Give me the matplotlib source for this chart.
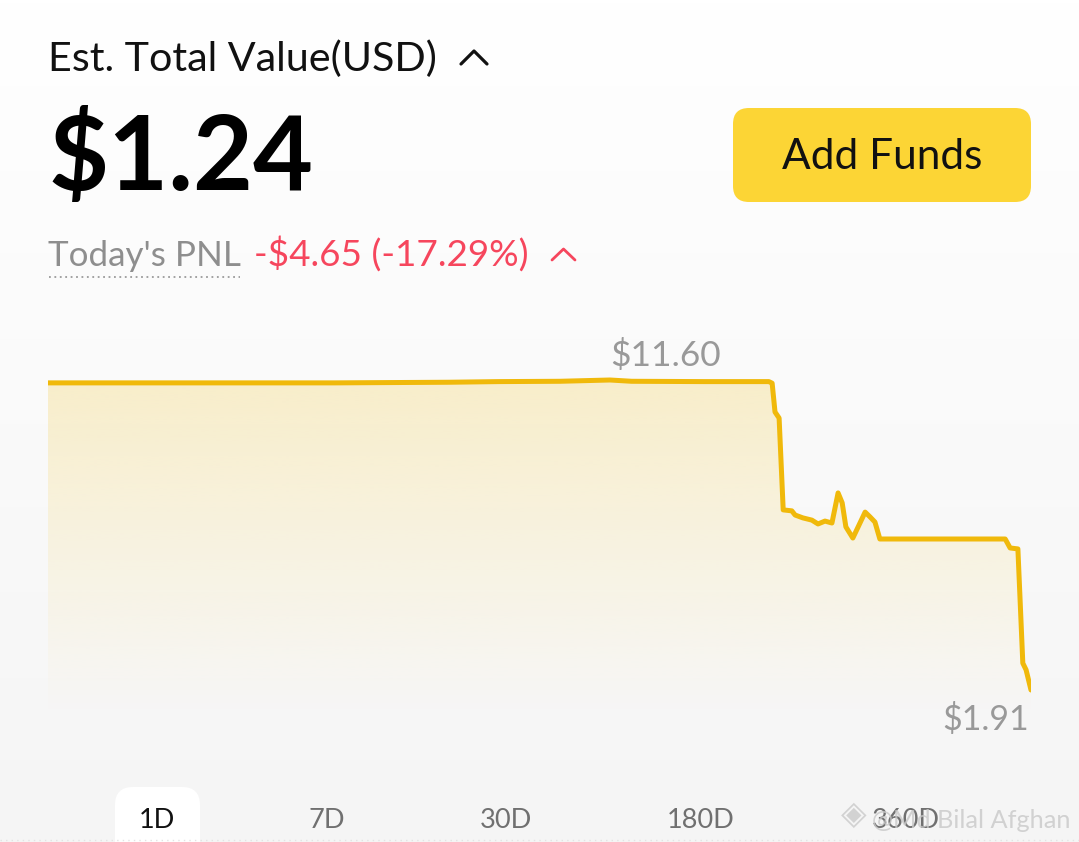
import numpy as np
import matplotlib.pyplot as plt
from matplotlib.patches import FancyBboxPatch

plt.rcParams['font.family'] = ['Lato', 'DejaVu Sans']

# portfolio value over the day (hours, USD)
hours = [0.00, 3.70, 7.00, 9.80, 11.00, 12.50, 13.72, 14.25, 16.00, 17.60,
         17.68, 17.75, 17.85, 17.95, 18.16, 18.24, 18.43, 18.65, 18.80, 18.97,
         19.14, 19.29, 19.39, 19.48, 19.65, 19.78, 19.95, 20.07, 20.19, 20.31,
         21.50, 22.50, 23.37, 23.49, 23.68, 23.80, 23.88, 24.00]
values = [11.51, 11.51, 11.51, 11.53, 11.55, 11.56, 11.60, 11.56, 11.55, 11.55,
          11.50, 10.60, 10.41, 7.54, 7.51, 7.38, 7.29, 7.22, 7.10, 7.19,
          7.13, 8.07, 7.76, 7.01, 6.66, 7.01, 7.47, 7.32, 7.16, 6.63,
          6.63, 6.63, 6.63, 6.35, 6.32, 2.75, 2.54, 1.91]

total_value = "$1.24"
pnl_text = "-$4.65 (-17.29%)"
tabs = ["1D", "7D", "30D", "180D", "360D"]
tab_x = [157, 327, 506, 701, 906]

W, H = 1079, 842
fig = plt.figure(figsize=(W / 100, H / 100), dpi=100)
renderer = fig.canvas.get_renderer()

bg = fig.add_axes([0, 0, 1, 1])
bg.set_xlim(0, W)
bg.set_ylim(H, 0)
bg.axis("off")
grad = np.linspace(1.0, 0.961, 256).reshape(-1, 1)
bg.imshow(np.dstack([grad] * 3), extent=[0, W, H, 0], aspect="auto", zorder=0)


def put(x, y, s, width, ax=bg, **kw):
    # set the font size so the text gets the width it has in the screenshot
    t = ax.text(x, y, s, **kw)
    w = t.get_window_extent(renderer).width
    t.set_fontsize(t.get_fontsize() * width / w)
    return t


# header
put(48, 71, "Est. Total Value(USD)", 389, color="#111111", va="baseline", fontsize=28)
bg.plot([461, 474, 487], [64, 51, 64], color="#111111", lw=2.3,
        solid_capstyle="round", solid_joinstyle="round")
put(48, 190, total_value, 265, color="#000000", va="baseline", fontsize=70,
    fontweight="bold")

r = 16
bg.add_patch(FancyBboxPatch((733 + r, 108 + r), 298 - 2 * r, 94 - 2 * r,
                            boxstyle=f"round,pad={r}", fc="#FCD535", ec="none"))
put(882, 169, "Add Funds", 200, ha="center", va="baseline", color="#111111",
    fontsize=26)

put(48, 266, "Today's PNL", 192, color="#8E8E8E", va="baseline", fontsize=22)
bg.plot([49, 240], [277, 277], color="#9A9A9A", lw=1.3, ls=(0, (1, 2)))
put(254, 266, pnl_text, 275, color="#F6465D", va="baseline", fontsize=22)
bg.plot([552, 563.5, 575], [260, 249, 260], color="#F6465D", lw=2,
        solid_capstyle="round", solid_joinstyle="round")

# tabs
bg.add_patch(FancyBboxPatch((115 + 18, 787 + 18), 85 - 36, 80,
                            boxstyle="round,pad=18", fc="white", ec="none"))
for name, x in zip(tabs, tab_x):
    bg.text(x, 828, name, ha="center", va="baseline", fontsize=19.5,
            color="#111111" if name == "1D" else "#707070")
bg.plot([0, W], [840, 840], color="#E3E3E3", lw=1, ls=(0, (1, 3)))
bg.text(854, 815, "\u25C8", ha="center", va="center", color="#CFCFCF",
        fontsize=24, alpha=0.9)
put(872, 828, "@Md Bilal Afghan", 198, va="baseline", color="#C8C8C8",
    alpha=0.8, fontsize=18)

# chart
px_top, px_bot = 330, 770
v_at = lambda py: 1.91 + (690 - py) * (11.60 - 1.91) / 310
ax = fig.add_axes([48 / W, (H - px_bot) / H, 983 / W, (px_bot - px_top) / H])
ax.set_xlim(0, 24)
ax.set_ylim(v_at(px_bot), v_at(px_top))
ax.axis("off")
ax.patch.set_alpha(0)

fill = ax.fill_between(hours, values, v_at(px_bot), color="none", lw=0)
alpha = np.linspace(0.65, 0.0, 256)
rgba = np.zeros((256, 1, 4))
rgba[..., 0] = 247 / 255
rgba[..., 1] = 231 / 255
rgba[..., 2] = 176 / 255
rgba[:, 0, 3] = alpha
img = ax.imshow(rgba, extent=[0, 24, v_at(712), max(values)], aspect="auto",
                zorder=1)
img.set_clip_path(fill.get_paths()[0], transform=ax.transData)

ax.plot(hours, values, color="#F0B90B", lw=3.6, solid_joinstyle="round",
        solid_capstyle="round", zorder=2)

i_max = int(np.argmax(values))
put(hours[i_max] - 0.0, v_at(366), f"${max(values):.2f}", 111, ax=ax,
    va="baseline", ha="left", color="#999999", fontsize=24)
put(23.95, v_at(730), f"${min(values):.2f}", 87, ax=ax, va="baseline",
    ha="right", color="#999999", fontsize=24)

fig.savefig("out.png", dpi=100)
